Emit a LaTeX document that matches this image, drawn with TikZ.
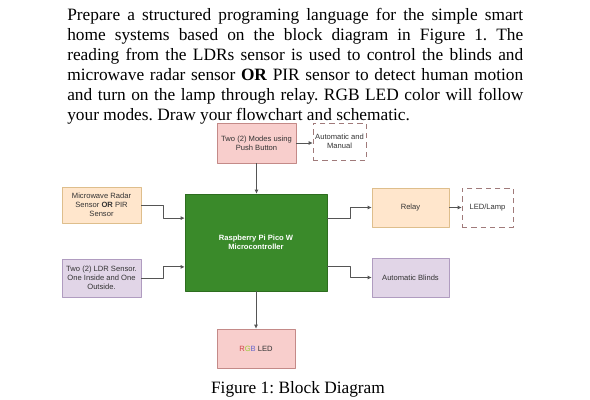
\documentclass[tikz,border=0pt]{standalone}
\usepackage{fontspec}
\setmainfont{Liberation Serif}
\setsansfont{Liberation Sans}
\usetikzlibrary{arrows.meta,calc}
\frenchspacing

\definecolor{pinkfill}{HTML}{F8CECC}
\definecolor{pinkline}{HTML}{C48A88}
\definecolor{orangefill}{HTML}{FFE6CC}
\definecolor{orangeline}{HTML}{DEBE8C}
\definecolor{purplefill}{HTML}{E1D5E7}
\definecolor{purpleline}{HTML}{B09CC0}
\definecolor{picofill}{HTML}{3A8A2A}
\definecolor{picoline}{HTML}{2D6D1F}
\definecolor{dashline}{HTML}{A07A7A}
\definecolor{txtgray}{HTML}{333333}
\definecolor{wiregray}{HTML}{555555}
\definecolor{ledred}{HTML}{CC4444}
\definecolor{ledgreen}{HTML}{9ACD32}
\definecolor{ledblue}{HTML}{6666CC}

\tikzset{
  blk/.style={draw,align=center,inner sep=1pt,text=txtgray,
    font=\sffamily\fontsize{5.7}{6.8}\selectfont},
  dashblk/.style={blk,draw=dashline,dash pattern=on 4pt off 3pt},
  wire/.style={->,draw=wiregray,line width=0.7pt},
}

\begin{document}
\begin{tikzpicture}[x=0.75pt,y=-0.75pt,>={Latex[length=3pt,width=3pt]},line join=round]
\useasboundingbox (0,0) rectangle (590,400);
% text of the task
\node[anchor=north west,inner sep=0pt,text width=342pt,align=justify,
  font=\fontsize{13}{15}\selectfont] (task) at (67,8.5)
  {Prepare a structured programing language for the simple smart\linebreak
   home systems based on the block diagram in Figure 1. The\linebreak
   reading from the LDRs sensor is used to control the blinds and\linebreak
   microwave radar sensor \textbf{OR} PIR sensor to detect human motion\linebreak
   and turn on the lamp through relay. RGB LED color will follow\linebreak
   your modes. Draw your flowchart and schematic.};
% blocks
\node[blk,fill=pinkfill,draw=pinkline,minimum width=59.25pt,minimum height=30pt] (modes) at (256.5,143) {Two (2) Modes using\\Push Button};
\node[dashblk,minimum width=39.75pt,minimum height=27.75pt] (auto) at (339.5,141.5) {Automatic and\\Manual};
\node[blk,fill=picofill,draw=picoline,text=white,minimum width=106.5pt,minimum height=72.75pt,
  font=\sffamily\bfseries\fontsize{5.7}{7}\selectfont] (pico) at (256,242.5) {Raspberry Pi Pico W\\Microcontroller};
\node[blk,fill=pinkfill,draw=pinkline,minimum width=58.5pt,minimum height=29.25pt] (rgb) at (256,348.5)
  {\textcolor{ledred}{R}\textcolor{ledgreen}{G}\textcolor{ledblue}{B} LED};
\node[blk,fill=orangefill,draw=orangeline,minimum width=59.25pt,minimum height=27pt] (radar) at (101.5,205) {Microwave Radar\\Sensor \textbf{OR} PIR\\Sensor};
\node[blk,fill=purplefill,draw=purpleline,minimum width=59.25pt,minimum height=28.5pt] (ldr) at (101.5,278) {Two (2) LDR Sensor.\\One Inside and One\\Outside.};
\node[blk,fill=orangefill,draw=orangeline,minimum width=57.75pt,minimum height=29.25pt] (relay) at (410.5,207.5) {Relay};
\node[dashblk,minimum width=38.25pt,minimum height=29.25pt] (lamp) at (487.5,207.5) {LED/Lamp};
\node[blk,fill=purplefill,draw=purpleline,minimum width=57.75pt,minimum height=29.25pt] (blinds) at (410.5,277.5) {Automatic Blinds};
% pins on the microcontroller
\coordinate (pinA) at ($(pico.north west)!0.25!(pico.south west)$);
\coordinate (pinB) at ($(pico.north west)!0.75!(pico.south west)$);
\coordinate (pinC) at ($(pico.north east)!0.25!(pico.south east)$);
\coordinate (pinD) at ($(pico.north east)!0.75!(pico.south east)$);
% connectors
\draw[wire] (modes.east) -- (modes.east -| auto.west);
\draw[wire] (modes.south) -- (modes.south |- pico.north);
\draw[wire] (radar.east) -- ++(22,0) |- (pinA);
\draw[wire] (ldr.east) -- ++(22,0) |- (pinB);
\draw[wire] (pinC) -- ++(23,0) |- (relay.west);
\draw[wire] (pinD) -- ++(23,0) |- (blinds.west);
\draw[wire] (relay.east) -- (lamp.west);
\draw[wire] (pico.south) -- (rgb.north);
% caption
\node[anchor=base,inner sep=0pt,font=\fontsize{13}{15}\selectfont] (caption) at (298,393) {Figure 1: Block Diagram};
\end{tikzpicture}
\end{document}
